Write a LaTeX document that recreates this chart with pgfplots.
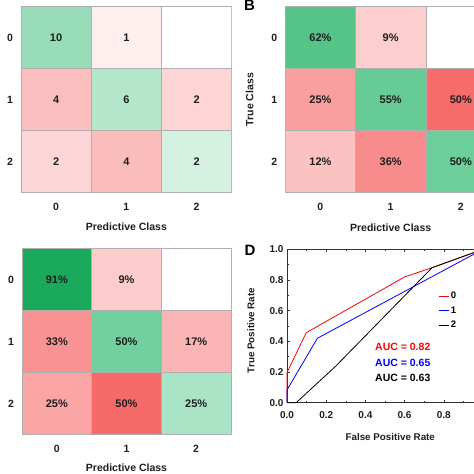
\documentclass[border=0pt]{standalone}
\usepackage{pgfplots}
\pgfplotsset{compat=1.18}
\usepackage{fontspec}
\setmainfont{Liberation Sans}
\newcommand\fs[1]{\fontsize{#1}{#1}\selectfont\bfseries}

\definecolor{gridc}{RGB}{175,175,175}
\definecolor{txt}{RGB}{30,30,30}
% panel A
\definecolor{aA}{RGB}{152,220,185}
\definecolor{aB}{RGB}{255,238,238}
\definecolor{aC}{RGB}{251,190,190}
\definecolor{aD}{RGB}{179,230,203}
\definecolor{aE}{RGB}{253,213,213}
\definecolor{aF}{RGB}{252,214,214}
\definecolor{aG}{RGB}{251,188,188}
\definecolor{aH}{RGB}{213,241,226}
% panel B
\definecolor{bA}{RGB}{87,196,135}
\definecolor{bB}{RGB}{253,206,206}
\definecolor{bC}{RGB}{250,159,159}
\definecolor{bD}{RGB}{102,203,149}
\definecolor{bE}{RGB}{247,107,107}
\definecolor{bF}{RGB}{252,194,194}
\definecolor{bG}{RGB}{248,140,140}
\definecolor{bH}{RGB}{108,207,154}
% panel C
\definecolor{cA}{RGB}{26,168,90}
\definecolor{cB}{RGB}{253,204,204}
\definecolor{cC}{RGB}{249,147,147}
\definecolor{cD}{RGB}{114,208,159}
\definecolor{cE}{RGB}{252,181,181}
\definecolor{cF}{RGB}{251,165,165}
\definecolor{cG}{RGB}{247,106,106}
\definecolor{cH}{RGB}{170,228,198}

\newcommand\cell[5]{\addplot[draw=gridc, line width=0.5pt, fill=#5] coordinates {(#1,#3) (#2,#3) (#2,#4) (#1,#4)} -- cycle;}

\pgfplotsset{
  heat/.style={
    scale only axis,
    xmin=-0.5, xmax=2.5, ymin=-0.5, ymax=2.5, y dir=reverse,
    xtick={0,1,2}, ytick={0,1,2},
    /pgf/number format/assume math mode=true,
    major tick length=0pt, minor tick length=0pt,
    axis line style={draw=gridc, line width=0.5pt},
    tick label style={font=\fs{10.5}, text=txt},
    xticklabel style={anchor=center, yshift=-14.5pt},
    yticklabel style={anchor=center, xshift=-11pt},
    xlabel={Predictive Class},
    x label style={anchor=center, font=\fs{10.5}, text=txt},
    y label style={anchor=center, font=\fs{10.5}, text=txt},
  },
  cellnum/.style={only marks, mark=none, point meta=explicit symbolic,
    nodes near coords style={anchor=center, font=\fs{11}, text=txt}},
}

\begin{document}
\begin{tikzpicture}
\useasboundingbox (0pt,0pt) rectangle (474pt,474pt);
\clip (0pt,0pt) rectangle (474pt,474pt);

% ---------------- Panel A ----------------
\begin{axis}[heat, at={(21pt,467.3pt)}, anchor=north west, width=210.7pt, height=186pt,
  x label style={at={(axis description cs:0.5,-0.183)}}]
\cell{-0.5}{0.5}{-0.5}{0.5}{aA}
\cell{0.5}{1.5}{-0.5}{0.5}{aB}
\cell{1.5}{2.5}{-0.5}{0.5}{white}
\cell{-0.5}{0.5}{0.5}{1.5}{aC}
\cell{0.5}{1.5}{0.5}{1.5}{aD}
\cell{1.5}{2.5}{0.5}{1.5}{aE}
\cell{-0.5}{0.5}{1.5}{2.5}{aF}
\cell{0.5}{1.5}{1.5}{2.5}{aG}
\cell{1.5}{2.5}{1.5}{2.5}{aH}
\addplot[cellnum, nodes near coords] table[meta=t] {
x y t
0 0 10
1 0 1
0 1 4
1 1 6
2 1 2
0 2 2
1 2 4
2 2 2
};
\end{axis}

% ---------------- Panel B ----------------
\begin{axis}[heat, at={(285.3pt,467.3pt)}, anchor=north west, width=210.7pt, height=186pt,
  x label style={at={(axis description cs:0.5,-0.188)}},
  ylabel={True Class}, y label style={at={(axis description cs:-0.169,0.5)}}]
\cell{-0.5}{0.5}{-0.5}{0.5}{bA}
\cell{0.5}{1.5}{-0.5}{0.5}{bB}
\cell{1.5}{2.5}{-0.5}{0.5}{white}
\cell{-0.5}{0.5}{0.5}{1.5}{bC}
\cell{0.5}{1.5}{0.5}{1.5}{bD}
\cell{1.5}{2.5}{0.5}{1.5}{bE}
\cell{-0.5}{0.5}{1.5}{2.5}{bF}
\cell{0.5}{1.5}{1.5}{2.5}{bG}
\cell{1.5}{2.5}{1.5}{2.5}{bH}
\addplot[cellnum, nodes near coords={\pgfplotspointmeta\%}] table[meta=t] {
x y t
0 0 62
1 0 9
0 1 25
1 1 55
2 1 50
0 2 12
1 2 36
2 2 50
};
\end{axis}
\node[anchor=north, inner sep=0pt, font=\fs{15}] at (249.5pt,474pt) {B};

% ---------------- Panel C ----------------
\begin{axis}[heat, at={(22pt,225.3pt)}, anchor=north west, width=209pt, height=185.6pt,
  x label style={at={(axis description cs:0.5,-0.182)}}]
\cell{-0.5}{0.5}{-0.5}{0.5}{cA}
\cell{0.5}{1.5}{-0.5}{0.5}{cB}
\cell{1.5}{2.5}{-0.5}{0.5}{white}
\cell{-0.5}{0.5}{0.5}{1.5}{cC}
\cell{0.5}{1.5}{0.5}{1.5}{cD}
\cell{1.5}{2.5}{0.5}{1.5}{cE}
\cell{-0.5}{0.5}{1.5}{2.5}{cF}
\cell{0.5}{1.5}{1.5}{2.5}{cG}
\cell{1.5}{2.5}{1.5}{2.5}{cH}
\addplot[cellnum, nodes near coords={\pgfplotspointmeta\%}] table[meta=t] {
x y t
0 0 91
1 0 9
0 1 33
1 1 50
2 1 17
0 2 25
1 2 50
2 2 25
};
\end{axis}

% ---------------- Panel D ----------------
\begin{axis}[at={(287pt,71.3pt)}, anchor=south west, scale only axis,
  width=196pt, height=153.4pt,
  xmin=0, xmax=1, ymin=0, ymax=1,
  xtick={0,0.2,0.4,0.6,0.8,1}, ytick={0,0.2,0.4,0.6,0.8,1},
  xticklabels={0.0,0.2,0.4,0.6,0.8,},
  minor tick num=1, tick align=inside, tick pos=both,
  major tick length=3pt, minor tick length=2pt,
  axis line style={draw=black!80, line width=0.7pt},
  every tick/.style={black!80, line width=0.6pt},
  tick label style={font=\fs{10}, text=txt},
  /pgf/number format/assume math mode=true,
  xticklabel style={anchor=center, yshift=-12.6pt},
  yticklabel style={/pgf/number format/.cd, fixed, fixed zerofill, precision=1},
  xlabel={False Positive Rate}, ylabel={True Positive Rate},
  x label style={at={(axis description cs:0.527,-0.224)}, anchor=center, font=\fs{9.8}, text=txt},
  y label style={at={(axis description cs:-0.184,0.47)}, anchor=center, font=\fs{9.8}, text=txt},
  legend style={draw=none, fill=none, at={(axis description cs:0.77,0.735)}, anchor=north west,
    font=\fs{9.5}, row sep=2.3pt, inner sep=0pt, cells={anchor=west}},
  legend image code/.code={\draw[#1] (0pt,0pt) -- (10pt,0pt);},
  clip=false]
\addplot[red, line width=0.8pt] coordinates {(0,0) (0,0.196) (0.098,0.456) (0.60,0.82) (0.74,0.88) (1,1)};
\addlegendentry{0}
\addplot[blue, line width=0.8pt] coordinates {(0,0) (0,0.083) (0.155,0.42) (1,1)};
\addlegendentry{1}
\addplot[black, line width=0.8pt] coordinates {(0,0) (0.047,0) (0.25,0.24) (0.74,0.88) (1,1)};
\addlegendentry{2}
\node[anchor=west, inner sep=0pt, text=red, font=\fs{10.5}] at (axis cs:0.449,0.361) {AUC = 0.82};
\node[anchor=west, inner sep=0pt, text=blue, font=\fs{10.5}] at (axis cs:0.449,0.257) {AUC = 0.65};
\node[anchor=west, inner sep=0pt, text=black, font=\fs{10.5}] at (axis cs:0.449,0.159) {AUC = 0.63};
\end{axis}
\node[anchor=center, inner sep=0pt, font=\fs{15}] at (250pt,224pt) {D};
\end{tikzpicture}
\end{document}
